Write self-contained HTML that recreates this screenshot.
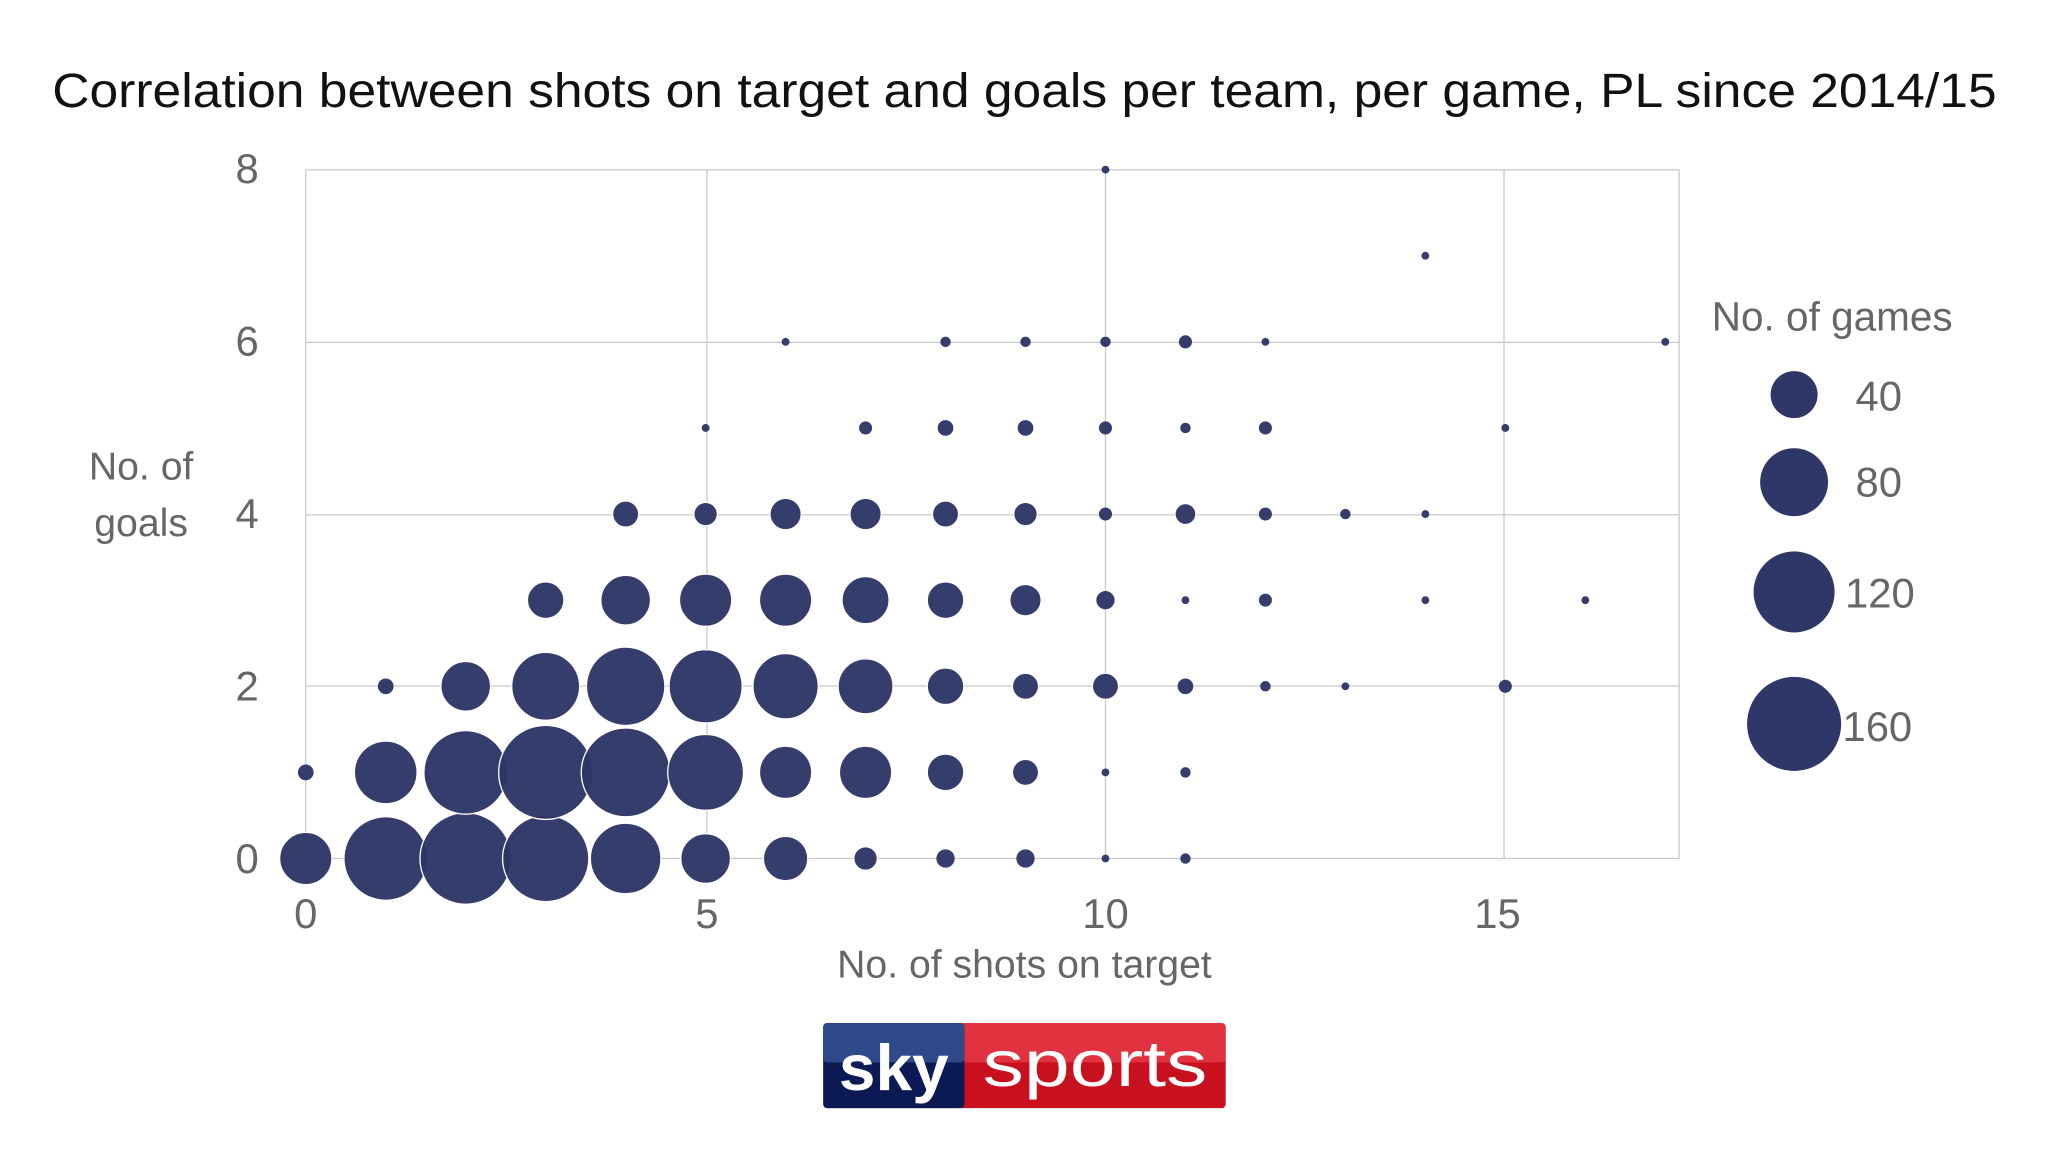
<!DOCTYPE html>
<html><head><meta charset="utf-8"><style>html,body{margin:0;padding:0;background:#fff;}svg{display:block;}</style></head>
<body>
<svg width="2048" height="1152" viewBox="0 0 1567.3 881.6" preserveAspectRatio="none" xmlns="http://www.w3.org/2000/svg" font-family="Liberation Sans, sans-serif">
<rect width="1567.3" height="881.6" fill="#fff"/>
<text x="784" y="82" text-anchor="middle" font-size="37" fill="#111" textLength="1488" lengthAdjust="spacingAndGlyphs">Correlation between shots on target and goals per team, per game, PL since 2014/15</text>
<g stroke="#c8c8c8" stroke-width="1" fill="none">
<line x1="234" y1="130" x2="1285" y2="130"/>
<line x1="234" y1="262" x2="1285" y2="262"/>
<line x1="234" y1="394" x2="1285" y2="394"/>
<line x1="234" y1="525" x2="1285" y2="525"/>
<line x1="234" y1="657" x2="1285" y2="657"/>
<line x1="234" y1="130" x2="234" y2="657"/>
<line x1="541" y1="130" x2="541" y2="657"/>
<line x1="846" y1="130" x2="846" y2="657"/>
<line x1="1151" y1="130" x2="1151" y2="657"/>
<line x1="1285" y1="130" x2="1285" y2="657"/>
</g>
<g font-size="32" fill="#666" text-anchor="end">
<text x="198" y="140">8</text><text x="198" y="272">6</text><text x="198" y="404">4</text><text x="198" y="536">2</text><text x="198" y="668">0</text>
</g>
<g font-size="32" fill="#666" text-anchor="middle">
<text x="234" y="710">0</text><text x="541" y="710">5</text><text x="846" y="710">10</text><text x="1146" y="710">15</text>
<text x="784" y="748" font-size="30">No. of shots on target</text>
<text x="108" y="367" font-size="30">No. of</text>
<text x="108" y="410" font-size="30">goals</text>
</g>
<g id="b" fill="#2d3566" fill-opacity="0.96" stroke="#fff" stroke-width="1"></g>
<g fill="#2f3768">
<circle cx="1373" cy="302" r="18"/><circle cx="1373" cy="369" r="26"/><circle cx="1373" cy="453" r="31"/><circle cx="1373" cy="554" r="36"/>
</g>
<g font-size="32" fill="#666">
<text x="1310" y="253" font-size="31">No. of games</text>
<text x="1420" y="314">40</text><text x="1420" y="380">80</text><text x="1412" y="465">120</text><text x="1410" y="567">160</text>
</g>
<rect x="630" y="783" width="308" height="65" rx="3" fill="#c8101e"/>
<rect x="630" y="783" width="308" height="30" rx="3" fill="#e0333f"/>
<rect x="630" y="783" width="108" height="65" rx="3" fill="#0b1a55"/>
<rect x="630" y="783" width="108" height="30" rx="3" fill="#2e4a8a"/>
<text x="684" y="834" text-anchor="middle" font-size="50" font-weight="bold" fill="#fff" textLength="84" lengthAdjust="spacingAndGlyphs">sky</text>
<text x="838" y="831" text-anchor="middle" font-size="50" fill="#fff" textLength="172" lengthAdjust="spacingAndGlyphs">sports</text>
<script>
var d=[
[0,0,20],[1,0,32],[2,0,35],[3,0,33],[4,0,27],[5,0,19],[6,0,17],[7,0,9],[8,0,7],[9,0,7],[10,0,3],[11,0,4],
[0,1,6],[1,1,24],[2,1,32],[3,1,36],[4,1,34],[5,1,29],[6,1,20],[7,1,20],[8,1,14],[9,1,10],[10,1,3],[11,1,4],
[1,2,6],[2,2,19],[3,2,26],[4,2,30],[5,2,28],[6,2,25],[7,2,21],[8,2,14],[9,2,10],[10,2,10],[11,2,6],[12,2,4],[13,2,3],[15,2,5],
[3,3,14],[4,3,19],[5,3,20],[6,3,20],[7,3,18],[8,3,14],[9,3,12],[10,3,7],[11,3,3],[12,3,5],[14,3,3],[16,3,3],
[4,4,10],[5,4,9],[6,4,12],[7,4,12],[8,4,10],[9,4,9],[10,4,5],[11,4,8],[12,4,5],[13,4,4],[14,4,3],
[5,5,3],[7,5,5],[8,5,6],[9,5,6],[10,5,5],[11,5,4],[12,5,5],[15,5,3],
[6,6,3],[8,6,4],[9,6,4],[10,6,4],[11,6,5],[12,6,3],[17,6,3],
[14,7,3],[10,8,3]];
var g=document.getElementById('b'),ns='http://www.w3.org/2000/svg';
d.sort(function(a,b){return a[1]-b[1]||a[0]-b[0];});
d.forEach(function(p){var c=document.createElementNS(ns,'circle');
c.setAttribute('cx',234+p[0]*61.2);c.setAttribute('cy',657-p[1]*65.9);c.setAttribute('r',p[2]);
if(p[2]<8)c.setAttribute('stroke-width','0');g.appendChild(c);});
</script>
</svg>
</body></html>
